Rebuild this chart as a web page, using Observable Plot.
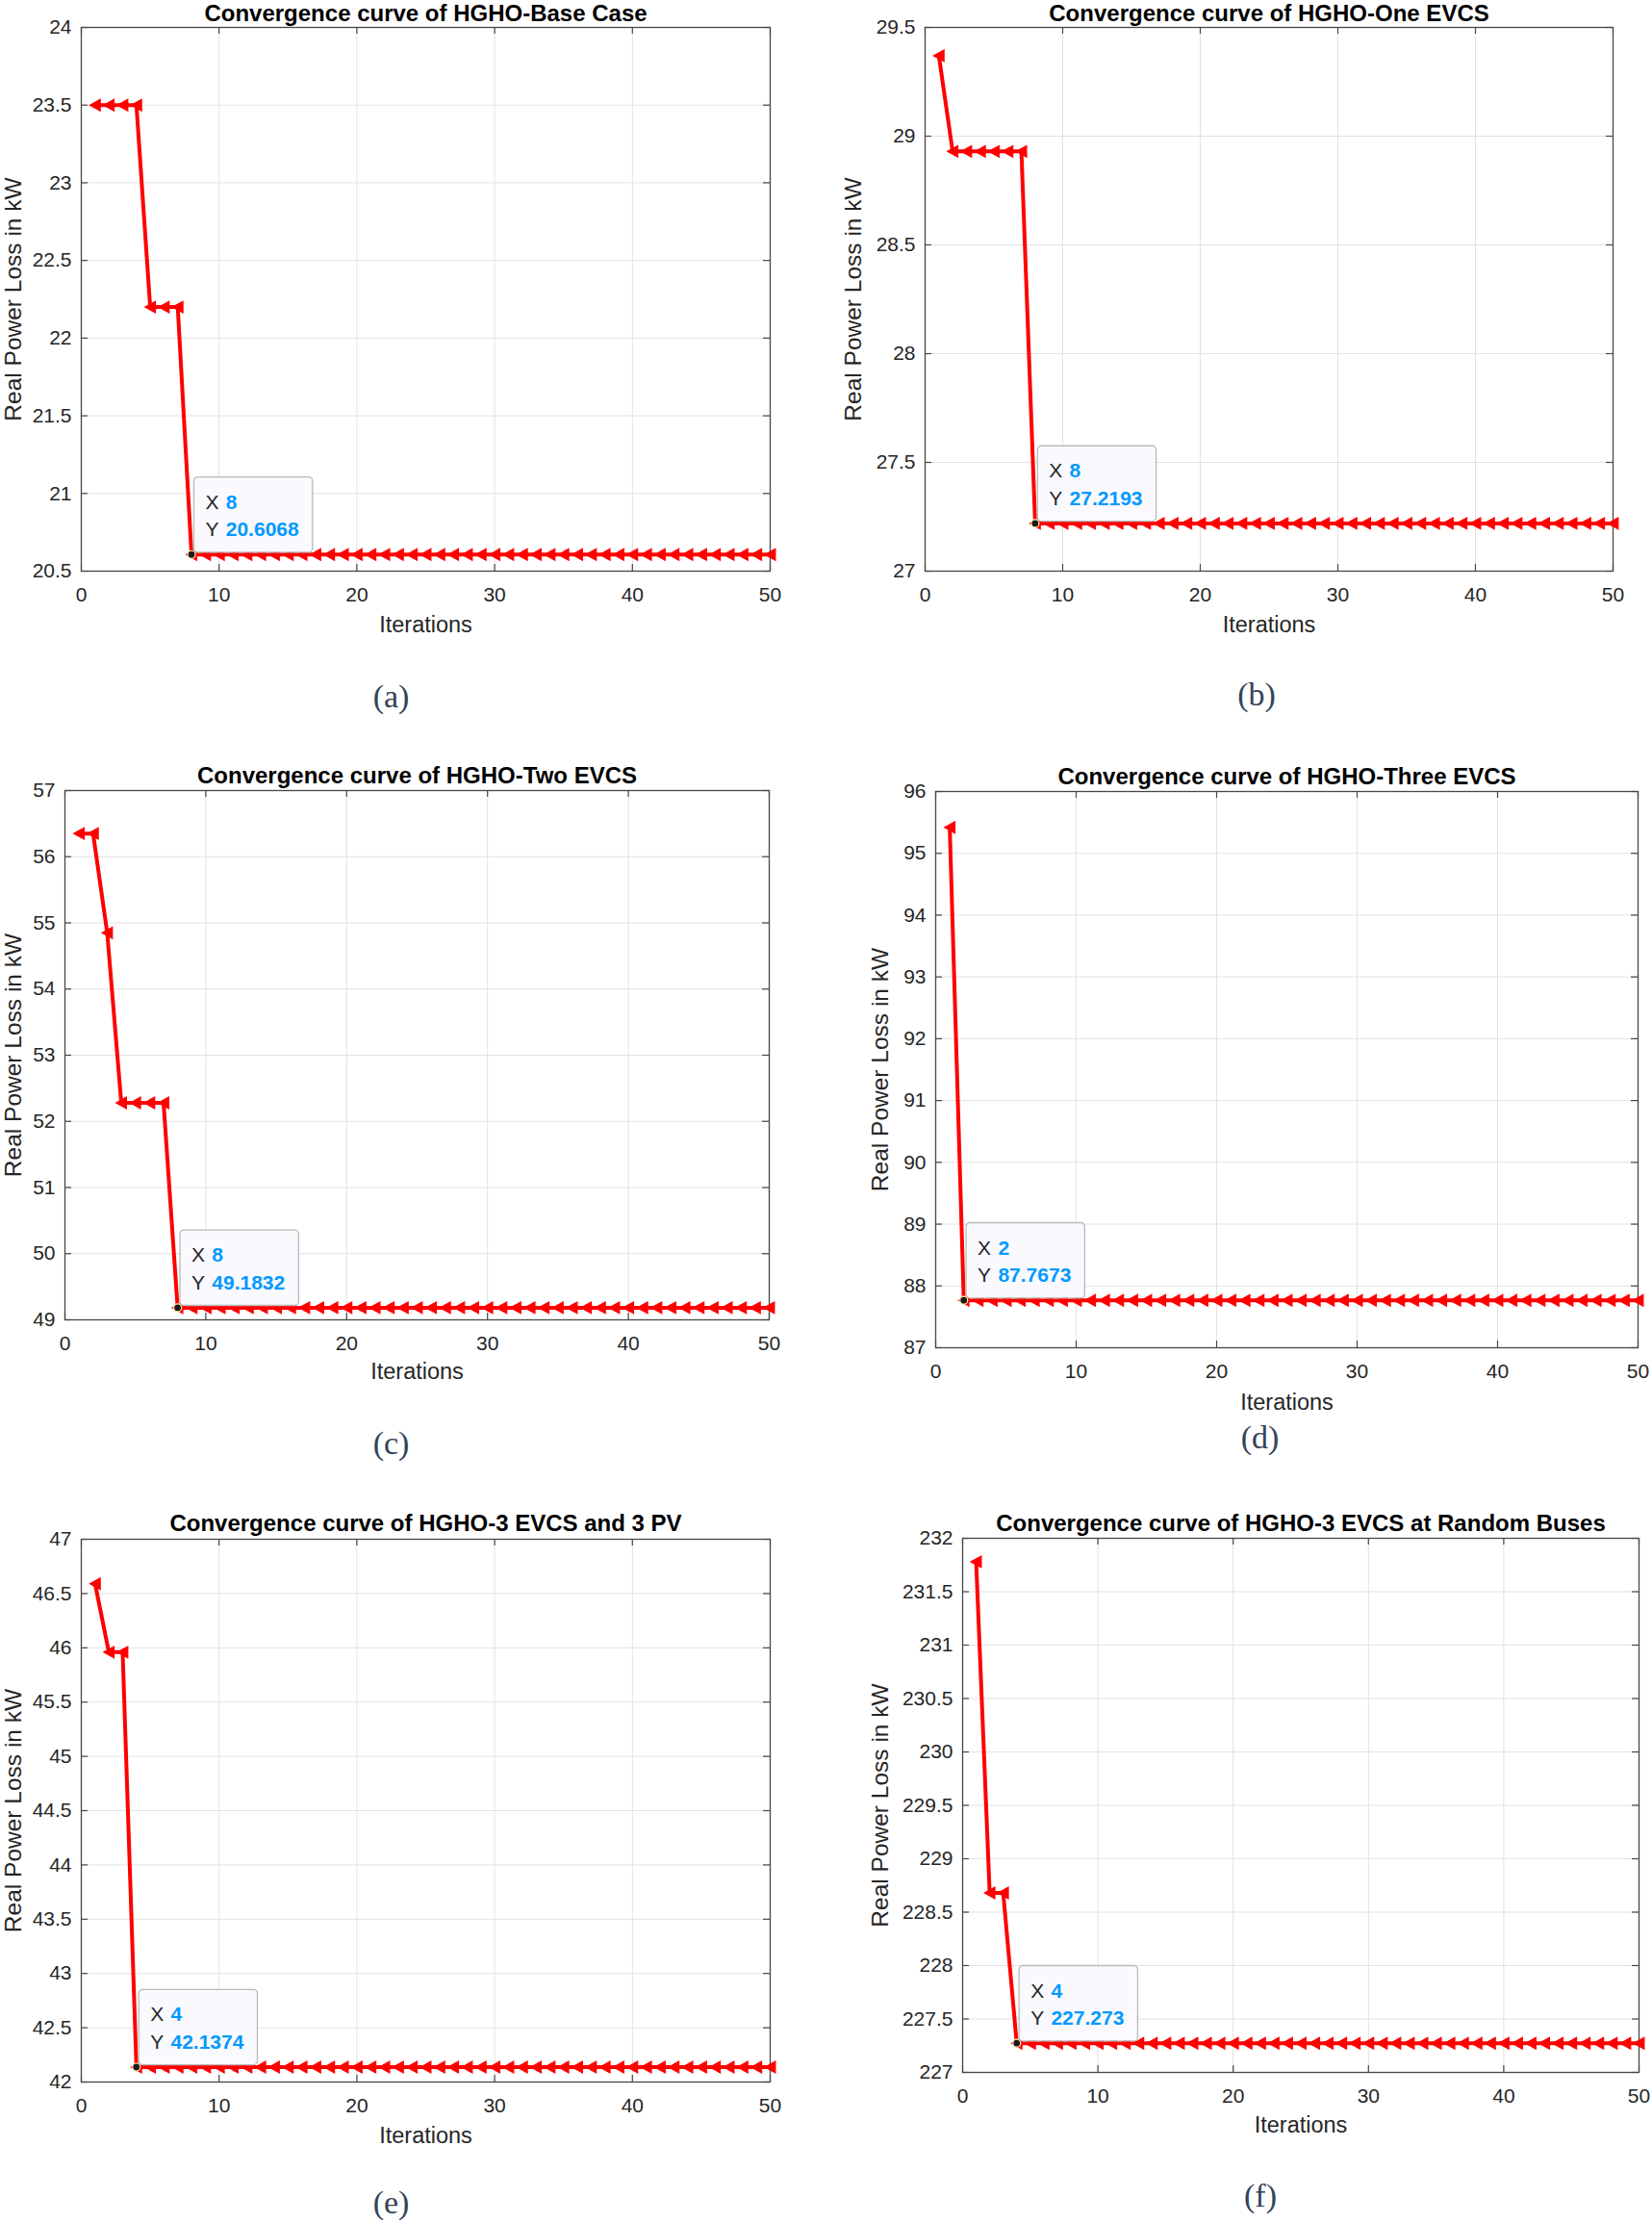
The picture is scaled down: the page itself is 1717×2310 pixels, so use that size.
<!DOCTYPE html>
<html>
<head>
<meta charset="utf-8">
<script src="https://cdn.jsdelivr.net/npm/d3@7"></script>
<script src="https://cdn.jsdelivr.net/npm/@observablehq/plot@0.6"></script>
<style>
  html, body { margin: 0; padding: 0; background: #fff; }
  #fig { position: relative; width: 1717px; height: 2310px; background: #fff; overflow: hidden; }
  .panel { position: absolute; }
  .panel svg { overflow: visible; display: block; }
</style>
</head>
<body>
<div id="fig"></div>
<script>
// ---------------- DATA ----------------
const iterations = [
  1, 2, 3, 4, 5, 6, 7, 8, 9, 10,
  11, 12, 13, 14, 15, 16, 17, 18, 19, 20,
  21, 22, 23, 24, 25, 26, 27, 28, 29, 30,
  31, 32, 33, 34, 35, 36, 37, 38, 39, 40,
  41, 42, 43, 44, 45, 46, 47, 48, 49, 50
];

const lossBaseCase = [
  23.5, 23.5, 23.5, 23.5, 22.2, 22.2, 22.2, 20.6068, 20.6068, 20.6068,
  20.6068, 20.6068, 20.6068, 20.6068, 20.6068, 20.6068, 20.6068, 20.6068, 20.6068, 20.6068,
  20.6068, 20.6068, 20.6068, 20.6068, 20.6068, 20.6068, 20.6068, 20.6068, 20.6068, 20.6068,
  20.6068, 20.6068, 20.6068, 20.6068, 20.6068, 20.6068, 20.6068, 20.6068, 20.6068, 20.6068,
  20.6068, 20.6068, 20.6068, 20.6068, 20.6068, 20.6068, 20.6068, 20.6068, 20.6068, 20.6068
];

const lossOneEVCS = [
  29.37, 28.93, 28.93, 28.93, 28.93, 28.93, 28.93, 27.2193, 27.2193, 27.2193,
  27.2193, 27.2193, 27.2193, 27.2193, 27.2193, 27.2193, 27.2193, 27.2193, 27.2193, 27.2193,
  27.2193, 27.2193, 27.2193, 27.2193, 27.2193, 27.2193, 27.2193, 27.2193, 27.2193, 27.2193,
  27.2193, 27.2193, 27.2193, 27.2193, 27.2193, 27.2193, 27.2193, 27.2193, 27.2193, 27.2193,
  27.2193, 27.2193, 27.2193, 27.2193, 27.2193, 27.2193, 27.2193, 27.2193, 27.2193, 27.2193
];

const lossTwoEVCS = [
  56.35, 56.35, 54.85, 52.28, 52.28, 52.28, 52.28, 49.1832, 49.1832, 49.1832,
  49.1832, 49.1832, 49.1832, 49.1832, 49.1832, 49.1832, 49.1832, 49.1832, 49.1832, 49.1832,
  49.1832, 49.1832, 49.1832, 49.1832, 49.1832, 49.1832, 49.1832, 49.1832, 49.1832, 49.1832,
  49.1832, 49.1832, 49.1832, 49.1832, 49.1832, 49.1832, 49.1832, 49.1832, 49.1832, 49.1832,
  49.1832, 49.1832, 49.1832, 49.1832, 49.1832, 49.1832, 49.1832, 49.1832, 49.1832, 49.1832
];

const lossThreeEVCS = [
  95.42, 87.7673, 87.7673, 87.7673, 87.7673, 87.7673, 87.7673, 87.7673, 87.7673, 87.7673,
  87.7673, 87.7673, 87.7673, 87.7673, 87.7673, 87.7673, 87.7673, 87.7673, 87.7673, 87.7673,
  87.7673, 87.7673, 87.7673, 87.7673, 87.7673, 87.7673, 87.7673, 87.7673, 87.7673, 87.7673,
  87.7673, 87.7673, 87.7673, 87.7673, 87.7673, 87.7673, 87.7673, 87.7673, 87.7673, 87.7673,
  87.7673, 87.7673, 87.7673, 87.7673, 87.7673, 87.7673, 87.7673, 87.7673, 87.7673, 87.7673
];

const lossEVCSandPV = [
  46.59, 45.96, 45.96, 42.1374, 42.1374, 42.1374, 42.1374, 42.1374, 42.1374, 42.1374,
  42.1374, 42.1374, 42.1374, 42.1374, 42.1374, 42.1374, 42.1374, 42.1374, 42.1374, 42.1374,
  42.1374, 42.1374, 42.1374, 42.1374, 42.1374, 42.1374, 42.1374, 42.1374, 42.1374, 42.1374,
  42.1374, 42.1374, 42.1374, 42.1374, 42.1374, 42.1374, 42.1374, 42.1374, 42.1374, 42.1374,
  42.1374, 42.1374, 42.1374, 42.1374, 42.1374, 42.1374, 42.1374, 42.1374, 42.1374, 42.1374
];

const lossRandomBuses = [
  231.78, 228.68, 228.68, 227.273, 227.273, 227.273, 227.273, 227.273, 227.273, 227.273,
  227.273, 227.273, 227.273, 227.273, 227.273, 227.273, 227.273, 227.273, 227.273, 227.273,
  227.273, 227.273, 227.273, 227.273, 227.273, 227.273, 227.273, 227.273, 227.273, 227.273,
  227.273, 227.273, 227.273, 227.273, 227.273, 227.273, 227.273, 227.273, 227.273, 227.273,
  227.273, 227.273, 227.273, 227.273, 227.273, 227.273, 227.273, 227.273, 227.273, 227.273
];

const xTicks = [0, 10, 20, 30, 40, 50];
const yTicksA = [20.5, 21, 21.5, 22, 22.5, 23, 23.5, 24];
const yTicksB = [27, 27.5, 28, 28.5, 29, 29.5];
const yTicksC = [49, 50, 51, 52, 53, 54, 55, 56, 57];
const yTicksD = [87, 88, 89, 90, 91, 92, 93, 94, 95, 96];
const yTicksE = [42, 42.5, 43, 43.5, 44, 44.5, 45, 45.5, 46, 46.5, 47];
const yTicksF = [227, 227.5, 228, 228.5, 229, 229.5, 230, 230.5, 231, 231.5, 232];

const titles = [
  "Convergence curve of HGHO-Base Case",
  "Convergence curve of HGHO-One EVCS",
  "Convergence curve of HGHO-Two EVCS",
  "Convergence curve of HGHO-Three EVCS",
  "Convergence curve of HGHO-3 EVCS and 3 PV",
  "Convergence curve of HGHO-3 EVCS at Random Buses"
];
const captions = ["(a)", "(b)", "(c)", "(d)", "(e)", "(f)"];
const xLabel = "Iterations";
const yLabel = "Real Power Loss in kW";

const tipIteration = [8, 8, 8, 2, 4, 4];
const tipLoss = [20.6068, 27.2193, 49.1832, 87.7673, 42.1374, 227.273];

// ---------------- LAYOUT / STYLE ----------------
const series = [lossBaseCase, lossOneEVCS, lossTwoEVCS, lossThreeEVCS, lossEVCSandPV, lossRandomBuses];
const yTicks = [yTicksA, yTicksB, yTicksC, yTicksD, yTicksE, yTicksF];

// page-level layout of each panel: region and axes frame (pixels)
const layout = [
  {left: 0,   top: 0,    w: 858, h: 770, L: 84,   R: 800,  T: 28,   B: 593,  titleDy: -14, xlabDy: 56, ylabDx: -70, capDx: -36, capDy: 131},
  {left: 858, top: 0,    w: 859, h: 770, L: 961,  R: 1676, T: 28,   B: 593,  titleDy: -14, xlabDy: 56, ylabDx: -74, capDx: -13, capDy: 129},
  {left: 0,   top: 770,  w: 858, h: 775, L: 67,   R: 799,  T: 821,  B: 1371, titleDy: -15, xlabDy: 54, ylabDx: -53, capDx: -27, capDy: 129},
  {left: 858, top: 770,  w: 859, h: 775, L: 972,  R: 1702, T: 822,  B: 1400, titleDy: -15, xlabDy: 57, ylabDx: -57, capDx: -28, capDy: 94},
  {left: 0,   top: 1545, w: 858, h: 765, L: 84,   R: 800,  T: 1599, B: 2163, titleDy: -16, xlabDy: 56, ylabDx: -70, capDx: -36, capDy: 126},
  {left: 858, top: 1545, w: 859, h: 765, L: 1000, R: 1703, T: 1598, B: 2153, titleDy: -15, xlabDy: 55, ylabDx: -85, capDx: -42, capDy: 129}
];

const SANS = "'Liberation Sans', Arial, Helvetica, sans-serif";
const SERIF = "'Liberation Serif', 'Times New Roman', serif";
const RED = "#ff0000";
const AXIS = "#262626";
const FRAME = "#474747";
const GRID = "#e2e2e2";
const TICKLEN = 7;

// MATLAB '<' marker
const triangleLeft = {
  draw(ctx, size) {
    const r = Math.sqrt(size / Math.PI);
    ctx.moveTo(-r, 0);
    ctx.lineTo(r, -r * 1.1);
    ctx.lineTo(r, r * 1.1);
    ctx.closePath();
  }
};

// data-tip box anchored at the data point (offsets in px)
const tipBox = {
  draw(ctx) {
    const x = 2.4, y = -80.7, w = 123.3, h = 78.3, r = 4;
    ctx.moveTo(x + r, y);
    ctx.lineTo(x + w - r, y);
    ctx.arcTo(x + w, y, x + w, y + r, r);
    ctx.lineTo(x + w, y + h - r);
    ctx.arcTo(x + w, y + h, x + w - r, y + h, r);
    ctx.lineTo(x + r, y + h);
    ctx.arcTo(x, y + h, x, y + h - r, r);
    ctx.lineTo(x, y + r);
    ctx.arcTo(x, y, x + r, y, r);
    ctx.closePath();
  }
};

const fig = document.getElementById("fig");

series.forEach((loss, k) => {
  const lay = layout[k];
  const rows = iterations.map((it, i) => ({it, v: loss[i]}));
  const yt = yTicks[k];
  const tip = [{it: tipIteration[k], v: tipLoss[k]}];
  const plotW = lay.R - lay.L;
  const plotH = lay.B - lay.T;

  const chart = Plot.plot({
    width: lay.w,
    height: lay.h,
    marginLeft: lay.L - lay.left,
    marginRight: lay.left + lay.w - lay.R,
    marginTop: lay.T - lay.top,
    marginBottom: lay.top + lay.h - lay.B,
    style: {fontFamily: SANS, background: "transparent", overflow: "visible"},
    x: {domain: [0, 50], label: null},
    y: {domain: [yt[0], yt[yt.length - 1]], label: null},
    marks: [
      // grid
      Plot.ruleX(xTicks, {x: d => d, stroke: GRID, strokeWidth: 1}),
      Plot.ruleY(yt, {y: d => d, stroke: GRID, strokeWidth: 1}),
      // inward ticks on all four sides
      Plot.tickY(yt, {y: d => d, insetRight: plotW - TICKLEN, stroke: FRAME, strokeWidth: 1.2}),
      Plot.tickY(yt, {y: d => d, insetLeft: plotW - TICKLEN, stroke: FRAME, strokeWidth: 1.2}),
      Plot.tickX(xTicks, {x: d => d, insetTop: plotH - TICKLEN, stroke: FRAME, strokeWidth: 1.2}),
      Plot.tickX(xTicks, {x: d => d, insetBottom: plotH - TICKLEN, stroke: FRAME, strokeWidth: 1.2}),
      Plot.frame({stroke: FRAME, strokeWidth: 1.3}),
      // axes labels
      Plot.axisX(xTicks, {anchor: "bottom", tickSize: 0, tickPadding: 16.5, fontSize: 21, color: AXIS, label: null, tickFormat: d => `${d}`}),
      Plot.axisY(yt, {anchor: "left", tickSize: 0, tickPadding: 10, fontSize: 21, color: AXIS, label: null, tickFormat: d => `${d}`}),
      // series
      Plot.line(rows, {x: "it", y: "v", stroke: RED, strokeWidth: 4, strokeLinejoin: "round"}),
      Plot.dot(rows, {x: "it", y: "v", symbol: triangleLeft, r: 5.3, fill: RED, stroke: RED, strokeWidth: 1.3}),
      // data tip
      Plot.dot(tip, {x: "it", y: "v", symbol: tipBox, fill: "#f9f9fe", stroke: "#b9b9b9", strokeWidth: 1.3}),
      Plot.dot(tip, {x: "it", y: "v", r: 4, fill: "#1a1a1a", stroke: "#fff3b0", strokeWidth: 1.2}),
      Plot.text(tip, {x: "it", y: "v", text: () => "X", dx: 14.4, dy: -54.4, textAnchor: "start", lineAnchor: "middle", fontSize: 21, fill: AXIS}),
      Plot.text(tip, {x: "it", y: "v", text: d => `${d.it}`, dx: 35.7, dy: -54.4, textAnchor: "start", lineAnchor: "middle", fontSize: 21, fontWeight: "bold", fill: "#0099ff"}),
      Plot.text(tip, {x: "it", y: "v", text: () => "Y", dx: 14.4, dy: -26.1, textAnchor: "start", lineAnchor: "middle", fontSize: 21, fill: AXIS}),
      Plot.text(tip, {x: "it", y: "v", text: d => `${d.v}`, dx: 35.7, dy: -26.1, textAnchor: "start", lineAnchor: "middle", fontSize: 21, fontWeight: "bold", fill: "#0099ff"}),
      // titles & labels
      Plot.text([titles[k]], {text: d => d, frameAnchor: "top", dy: lay.titleDy, lineAnchor: "middle", fontSize: 24, fontWeight: "bold", fill: "#000"}),
      Plot.text([xLabel], {text: d => d, frameAnchor: "bottom", dy: lay.xlabDy, lineAnchor: "middle", fontSize: 23.5, fill: AXIS}),
      Plot.text([yLabel], {text: d => d, frameAnchor: "left", dx: lay.ylabDx, rotate: -90, lineAnchor: "middle", textAnchor: "middle", fontSize: 24.5, fill: AXIS}),
      Plot.text([captions[k]], {text: d => d, frameAnchor: "bottom", dx: lay.capDx, dy: lay.capDy, lineAnchor: "middle", fontSize: 34, fontFamily: SERIF, fill: "#34435a"})
    ]
  });

  const holder = document.createElement("div");
  holder.className = "panel";
  holder.style.left = lay.left + "px";
  holder.style.top = lay.top + "px";
  holder.style.width = lay.w + "px";
  holder.style.height = lay.h + "px";
  holder.appendChild(chart);
  fig.appendChild(holder);
});
</script>
</body>
</html>
